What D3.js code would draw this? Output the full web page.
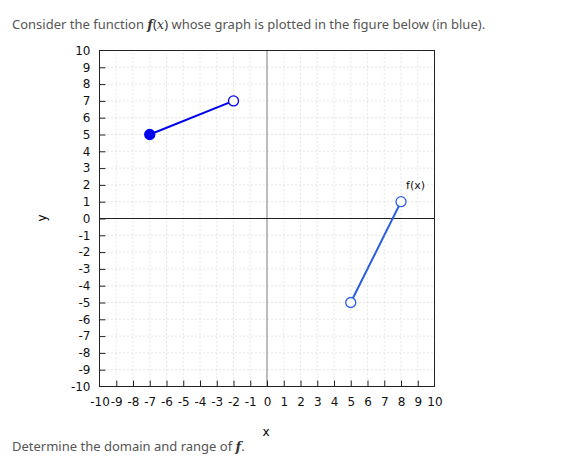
<!DOCTYPE html><html><head><meta charset="utf-8"><script src="https://cdn.jsdelivr.net/npm/d3@7"></script>
<style>body{margin:0;background:#fff;font-family:"DejaVu Sans",sans-serif}</style></head><body>
<svg id="c" width="583" height="466"></svg>
<script>
const ticks=d3.range(-10,11);
const seg1=[[-7,5],[-2,7]];const seg1Open=[false,true];
const seg2=[[5,-5],[8,1]];const seg2Open=[true,true];
const svg=d3.select("#c");
const x=d3.scaleLinear().domain([-10,10]).range([99.5,434.5]);
const y=d3.scaleLinear().domain([-10,10]).range([386.5,50.5]);
svg.append("text").attr("x",12).attr("y",29).attr("font-family","'Noto Sans',sans-serif").attr("font-size",13).attr("fill","#555")
 .html('Consider the function <tspan font-family="DejaVu Serif" font-style="italic" font-weight="bold" fill="#333">f</tspan><tspan fill="#333">(</tspan><tspan font-family="DejaVu Serif" font-style="italic" fill="#333">x</tspan><tspan fill="#333">)</tspan> whose graph is plotted in the figure below (in blue).');
const g=svg.append("g");
ticks.forEach(t=>{if(t===-10||t===10||t===0)return;
 g.append("line").attr("x1",x(t)).attr("x2",x(t)).attr("y1",y(-10)).attr("y2",y(10)).attr("stroke","#ccc").attr("stroke-dasharray","1,3");
 g.append("line").attr("y1",y(t)).attr("y2",y(t)).attr("x1",x(-10)).attr("x2",x(10)).attr("stroke","#ccc").attr("stroke-dasharray","1,3");});
g.append("line").attr("x1",x(0)).attr("x2",x(0)).attr("y1",y(-10)).attr("y2",y(10)).attr("stroke","#999").attr("stroke-width",1.3);
g.append("line").attr("y1",y(0)).attr("y2",y(0)).attr("x1",x(-10)).attr("x2",x(10)).attr("stroke","#222");
g.append("rect").attr("x",x(-10)).attr("y",y(10)).attr("width",x(10)-x(-10)).attr("height",y(-10)-y(10)).attr("fill","none").attr("stroke","#222");
const fmt=d=>String(d);
const yAx=svg.append("g").attr("transform",`translate(${x(-10)},0)`).call(d3.axisLeft(y).tickValues(ticks).tickSize(-6).tickPadding(9).tickFormat(fmt));
const xAx=svg.append("g").attr("transform",`translate(0,${y(-10)})`).call(d3.axisBottom(x).tickValues(ticks).tickSize(-6).tickPadding(9).tickFormat(fmt));
[yAx,xAx].forEach(a=>{a.select(".domain").remove();a.selectAll("text").attr("font-size",12).attr("font-family","DejaVu Sans").attr("fill","#111");a.selectAll("line").attr("stroke","#222")});
yAx.selectAll(".tick").filter(d=>d===-10||d===10).select("line").remove();
xAx.selectAll(".tick").filter(d=>d===-10||d===10).select("line").remove();
xAx.selectAll("text").attr("dy","0.9em");
svg.append("text").attr("x",266).attr("y",436).attr("text-anchor","middle").attr("font-size",12).attr("font-family","DejaVu Sans").text("x");
svg.append("text").attr("x",46).attr("y",218).attr("text-anchor","middle").attr("font-size",12).attr("font-family","DejaVu Sans").attr("transform","rotate(-90,46,218)").text("y");
const line=d3.line().x(d=>x(d[0])).y(d=>y(d[1]));
[[seg1,seg1Open,"#0000ee"],[seg2,seg2Open,"#2a5fe0"]].forEach(([s,o,c])=>{
 svg.append("path").attr("d",line(s)).attr("stroke",c).attr("stroke-width",2).attr("fill","none");
 s.forEach((p,i)=>svg.append("circle").attr("cx",x(p[0])).attr("cy",y(p[1])).attr("r",5).attr("fill",o[i]?"#fff":c).attr("stroke",c).attr("stroke-width",1.3));});
svg.append("text").attr("x",x(8.3)).attr("y",y(1.75)).attr("font-size",11).attr("font-family","DejaVu Sans").attr("fill","#111").text("f(x)");
svg.append("text").attr("x",12).attr("y",451).attr("font-family","'Noto Sans',sans-serif").attr("font-size",13).attr("fill","#555")
 .html('Determine the domain and range of <tspan font-family="DejaVu Serif" font-style="italic" font-weight="bold" fill="#333">f</tspan>.');
</script></body></html>
